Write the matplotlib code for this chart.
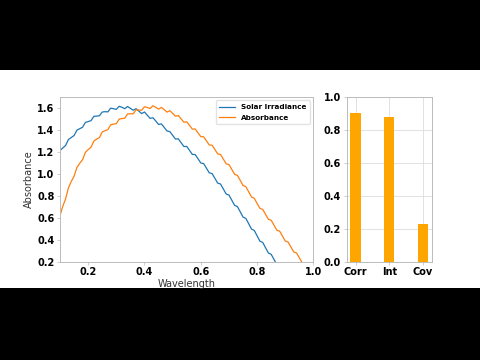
import matplotlib
matplotlib.use("Agg")
import matplotlib.pyplot as plt
import numpy as np
from matplotlib.patches import Rectangle

# Curves (step 0.01 in wavelength)
wl_solar = np.linspace(0.10, 0.89, 80)
solar = [1.212, 1.235, 1.258, 1.312, 1.330, 1.348, 1.397, 1.410, 1.423, 1.467,
         1.475, 1.483, 1.522, 1.525, 1.528, 1.562, 1.565, 1.563, 1.597, 1.592,
         1.586, 1.614, 1.605, 1.592, 1.612, 1.595, 1.578, 1.592, 1.570, 1.548,
         1.562, 1.533, 1.504, 1.510, 1.480, 1.449, 1.454, 1.422, 1.389, 1.384,
         1.350, 1.316, 1.318, 1.283, 1.248, 1.249, 1.213, 1.176, 1.175, 1.137,
         1.098, 1.093, 1.051, 1.009, 1.002, 0.959, 0.915, 0.907, 0.862, 0.816,
         0.807, 0.760, 0.713, 0.702, 0.654, 0.606, 0.594, 0.546, 0.497, 0.484,
         0.435, 0.387, 0.375, 0.327, 0.279, 0.267, 0.220, 0.173, 0.162, 0.115]

wl_abs = np.linspace(0.10, 0.98, 89)
absorb = [0.620, 0.705, 0.773, 0.872, 0.930, 0.978, 1.057, 1.095, 1.128, 1.194,
          1.220, 1.241, 1.297, 1.315, 1.330, 1.380, 1.392, 1.402, 1.446, 1.452,
          1.456, 1.498, 1.502, 1.506, 1.544, 1.546, 1.546, 1.582, 1.580, 1.578,
          1.610, 1.603, 1.594, 1.619, 1.604, 1.588, 1.604, 1.583, 1.561, 1.574,
          1.550, 1.523, 1.530, 1.500, 1.469, 1.473, 1.440, 1.406, 1.408, 1.373,
          1.338, 1.337, 1.300, 1.262, 1.260, 1.221, 1.181, 1.176, 1.134, 1.091,
          1.084, 1.040, 0.995, 0.986, 0.940, 0.894, 0.883, 0.836, 0.789, 0.777,
          0.730, 0.685, 0.676, 0.631, 0.586, 0.577, 0.532, 0.487, 0.478, 0.433,
          0.388, 0.379, 0.334, 0.289, 0.280, 0.235, 0.190, 0.181, 0.136]

metrics = ["Corr", "Int", "Cov"]
scores = [0.90, 0.88, 0.23]

fig = plt.figure(figsize=(4.8, 3.6), dpi=100, facecolor="white")
# black letterbox bands above and below
for y0, h in [(0, 0.2), (0.806, 0.194)]:
    fig.add_artist(Rectangle((0, y0), 1, h, transform=fig.transFigure,
                             facecolor="black", edgecolor="none", zorder=-1))

ax1 = fig.add_axes([0.125, 0.273, 0.528, 0.458])
ax2 = fig.add_axes([0.722, 0.273, 0.178, 0.458])

ax1.plot(wl_solar, solar, color="#1f77b4", lw=0.9, label="Solar Irradiance")
ax1.plot(wl_abs, absorb, color="#ff7f0e", lw=0.9, label="Absorbance")
ax1.set_xlim(0.1, 1.0)
ax1.set_ylim(0.2, 1.7)
ax1.set_xticks([0.2, 0.4, 0.6, 0.8, 1.0])
ax1.set_yticks([0.2, 0.4, 0.6, 0.8, 1.0, 1.2, 1.4, 1.6])
ax1.set_xlabel("Wavelength", fontsize=7, color="#333333", labelpad=1)
ax1.set_ylabel("Absorbance", fontsize=7, color="#333333", labelpad=2)
leg = ax1.legend(loc="upper right", prop={"size": 5.2, "weight": "bold"},
                 handlelength=2.2, borderpad=0.5, labelspacing=0.6,
                 framealpha=0.8)
leg.get_frame().set_edgecolor("#dddddd")

ax2.bar(metrics, scores, width=0.3, color="orange", zorder=2)
ax2.set_ylim(0, 1.0)
ax2.set_yticks([0.0, 0.2, 0.4, 0.6, 0.8, 1.0])
ax2.grid(True, color="#dddddd", lw=0.6, zorder=0)

for ax in (ax1, ax2):
    for sp in ax.spines.values():
        sp.set_color("#bbbbbb")
        sp.set_linewidth(0.7)
    ax.tick_params(length=2, width=0.5, color="#bbbbbb", pad=2, labelsize=7)
    for lab in ax.get_xticklabels() + ax.get_yticklabels():
        lab.set_fontweight("bold")

fig.savefig("out.png", dpi=100, facecolor=fig.get_facecolor())
